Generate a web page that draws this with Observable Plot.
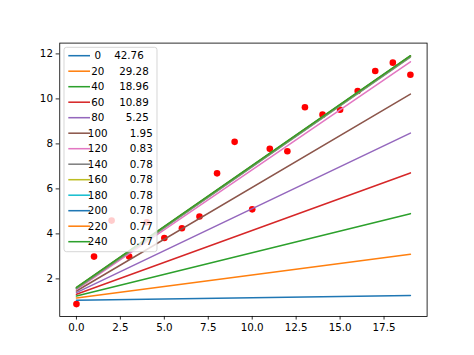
<!DOCTYPE html>
<html>
<head>
<meta charset="utf-8">
<script src="https://cdn.jsdelivr.net/npm/d3@7"></script>
<script src="https://cdn.jsdelivr.net/npm/@observablehq/plot@0.6"></script>
<style>
  html, body { margin: 0; padding: 0; background: #fff; }
  svg { display: block; }
</style>
</head>
<body>
<div id="chart"></div>
<script>
// Scatter data
const xs = [0, 1, 2, 3, 4, 5, 6, 7, 8, 9, 10, 11, 12, 13, 14, 15, 16, 17, 18, 19];
const ys = [0.88, 2.99, 4.59, 2.99, 4.52, 3.82, 4.25, 4.77, 6.69, 8.09, 5.09, 7.78, 7.67, 9.63, 9.30, 9.52, 10.35, 11.24, 11.61, 11.07];

// Fitted lines per iteration: value at x=0 and at x=19
const iterations = [0, 20, 40, 60, 80, 100, 120, 140, 160, 180, 200, 220, 240];
const losses = ["42.76", "29.28", "18.96", "10.89", "5.25", "1.95", "0.83", "0.78", "0.78", "0.78", "0.78", "0.77", "0.77"];
const startVals = [1.05, 1.15, 1.24, 1.32, 1.39, 1.46, 1.52, 1.57, 1.58, 1.59, 1.60, 1.61, 1.62];
const endVals = [1.26, 3.09, 4.90, 6.71, 8.48, 10.21, 11.65, 11.86, 11.88, 11.89, 11.90, 11.91, 11.92];
const lineX = [0, 19];

// Ticks
const xTicks = [0, 2.5, 5, 7.5, 10, 12.5, 15, 17.5];
const yTicks = [2, 4, 6, 8, 10, 12];

const palette = ["#1f77b4", "#ff7f0e", "#2ca02c", "#d62728", "#9467bd", "#8c564b", "#e377c2", "#7f7f7f", "#bcbd22", "#17becf"];

const points = xs.map((x, i) => ({x, y: ys[i]}));
const lineData = [];
iterations.forEach((it, k) => {
  lineData.push({k, x: lineX[0], y: startVals[k]});
  lineData.push({k, x: lineX[1], y: endVals[k]});
});

const FS = 10.3;
const chart = Plot.plot({
  width: 474,
  height: 355,
  marginLeft: 59.25,
  marginRight: 47.4,
  marginTop: 42.6,
  marginBottom: 39.05,
  style: {fontFamily: "DejaVu Sans", fontSize: FS + "px", color: "black", background: "white"},
  x: {domain: [-0.95, 19.95]},
  y: {domain: [0.33, 12.48]},
  marks: [
    Plot.dot(points, {x: "x", y: "y", r: 3.3, fill: "#ff0000", stroke: "none"}),
    ...iterations.map((it, k) =>
      Plot.line(lineData.filter(d => d.k === k), {x: "x", y: "y", stroke: palette[k % 10], strokeWidth: 1.54})
    ),
    Plot.frame({stroke: "black", strokeWidth: 0.82}),
    Plot.axisX({ticks: xTicks, tickFormat: d => d.toFixed(1), tickSize: 3.6, tickPadding: 3.2, label: null, strokeWidth: 0.82, fontSize: FS}),
    Plot.axisY({ticks: yTicks, tickFormat: d => String(d), tickSize: 3.6, tickPadding: 3.2, label: null, strokeWidth: 0.82, fontSize: FS})
  ]
});

document.getElementById("chart").appendChild(chart);

// Legend (matplotlib-style, upper left)
const svg = d3.select(chart);
const lg = svg.append("g");
const boxX = 64, boxY = 47.3, boxW = 93, boxH = 204.4;
lg.append("rect")
  .attr("x", boxX).attr("y", boxY).attr("width", boxW).attr("height", boxH)
  .attr("rx", 2.5).attr("ry", 2.5)
  .attr("fill", "white").attr("fill-opacity", 0.8)
  .attr("stroke", "#cccccc").attr("stroke-opacity", 0.8).attr("stroke-width", 1);
const rowStart = 55.7, rowStep = 15.5;
const valRight = [143.7, 148.7, 152.7];
iterations.forEach((it, k) => {
  const cy = rowStart + k * rowStep;
  lg.append("line")
    .attr("x1", 68.3).attr("x2", 90).attr("y1", cy).attr("y2", cy)
    .attr("stroke", palette[k % 10]).attr("stroke-width", 1.54);
  lg.append("text")
    .attr("x", 97.7).attr("y", cy).attr("dy", "0.36em")
    .attr("font-family", "DejaVu Sans").attr("font-size", FS).attr("fill", "black")
    .text(String(it));
  lg.append("text")
    .attr("x", valRight[String(it).length - 1]).attr("y", cy).attr("dy", "0.36em")
    .attr("text-anchor", "end")
    .attr("font-family", "DejaVu Sans").attr("font-size", FS).attr("fill", "black")
    .text(losses[k]);
});
</script>
</body>
</html>
